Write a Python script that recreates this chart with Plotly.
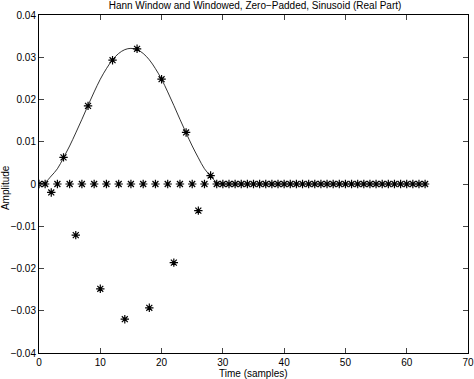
import plotly.graph_objects as go

# Hann window curve (samples 0..30)
win_n = list(range(31))
win_vals = [0.0, 0.0004, 0.0019, 0.0036, 0.0062, 0.0090, 0.0121, 0.0153, 0.0186, 0.0218,
            0.0248, 0.0273, 0.0294, 0.0309, 0.0318, 0.0321, 0.0318, 0.0309, 0.0294, 0.0273,
            0.0248, 0.0218, 0.0186, 0.0153, 0.0121, 0.0090, 0.0062, 0.0036, 0.0019, 0.0004, 0.0]

# Windowed, zero-padded sinusoid (real part), samples 0..63
sig_n = list(range(64))
sig_vals = [0.0, 0.0, -0.002, 0.0, 0.0063, 0.0, -0.0121, 0.0, 0.0185, 0.0,
            -0.0248, 0.0, 0.0293, 0.0, -0.0320, 0.0, 0.0320, 0.0, -0.0293, 0.0,
            0.0248, 0.0, -0.0186, 0.0, 0.0122, 0.0, -0.0063, 0.0, 0.0020, 0.0] + [0.0] * 34

x_ticks = [0, 10, 20, 30, 40, 50, 60, 70]
y_ticks = [-0.04, -0.03, -0.02, -0.01, 0, 0.01, 0.02, 0.03, 0.04]
y_tick_text = ["\u22120.04", "\u22120.03", "\u22120.02", "\u22120.01", "0", "0.01", "0.02", "0.03", "0.04"]

fam = "Liberation Sans, Arial, Helvetica, sans-serif"

fig = go.Figure()
fig.add_trace(go.Scatter(x=win_n, y=win_vals, mode="lines",
                         line=dict(color="black", width=0.8), line_shape="spline",
                         showlegend=False, hoverinfo="skip"))
fig.add_trace(go.Scatter(x=sig_n, y=sig_vals, mode="markers",
                         marker=dict(symbol="asterisk-open", size=7, color="black",
                                     line=dict(color="black", width=1.2)),
                         showlegend=False))

fig.update_layout(
    width=474, height=379,
    margin=dict(l=39, r=6, t=15, b=26),
    paper_bgcolor="white", plot_bgcolor="white",
    font=dict(family=fam, size=10, color="black"),
    title=dict(text="Hann Window and Windowed, Zero\u2212Padded, Sinusoid (Real Part)",
               x=255 / 474, xanchor="center", xref="container",
               y=1 - 5 / 379, yanchor="middle", yref="container",
               font=dict(size=10, family=fam, color="black")),
    annotations=[
        dict(text="Time (samples)", xref="paper", yref="paper", x=0.5, y=0,
             xanchor="center", yanchor="middle", yshift=-20, showarrow=False,
             font=dict(size=10, family=fam, color="black")),
        dict(text="Amplitude", xref="paper", yref="paper", x=0, y=0.488,
             xanchor="center", yanchor="middle", xshift=-34, textangle=-90,
             showarrow=False, font=dict(size=10, family=fam, color="black")),
    ],
)
fig.update_xaxes(range=[0, 70], tickvals=x_ticks, ticks="inside", ticklen=5,
                 showline=True, linecolor="black", linewidth=1, mirror="ticks",
                 showgrid=False, zeroline=False, automargin=False)
fig.update_yaxes(range=[-0.04, 0.04], tickvals=y_ticks, ticktext=y_tick_text,
                 ticks="inside", ticklen=5,
                 showline=True, linecolor="black", linewidth=1, mirror="ticks",
                 showgrid=False, zeroline=False, automargin=False)

fig.write_html("out.html", config={"displayModeBar": False},
               post_script="document.body.style.margin='0';")
